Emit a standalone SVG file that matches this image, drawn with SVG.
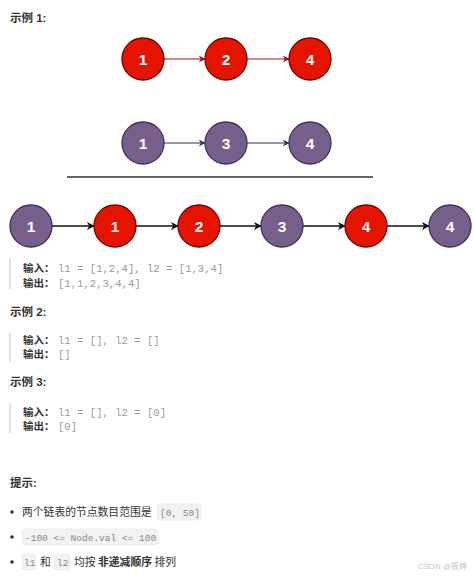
<svg xmlns="http://www.w3.org/2000/svg" width="474" height="579" viewBox="0 0 474 579">
<defs>
<style>
.red{fill:#e51400;stroke:#6f0000;stroke-width:1.3}
.pur{fill:#76608a;stroke:#432d57;stroke-width:1.3}
.nt{font-family:"Liberation Sans",Arial,sans-serif;font-weight:bold;font-size:15.5px;fill:#fff;text-anchor:middle}
.h{font-family:"Liberation Sans","Noto Sans CJK SC",sans-serif;font-weight:bold;font-size:11.5px;fill:#333}
.lb{font-family:"Noto Sans CJK SC",sans-serif;font-weight:bold;font-size:10.5px;fill:#333}
.code{font-family:"Liberation Mono","DejaVu Sans Mono",monospace;font-size:10.6px;fill:#999}
.t{font-family:"Noto Sans CJK SC",sans-serif;font-size:10.8px;fill:#333}
.ic{font-family:"Liberation Mono","DejaVu Sans Mono",monospace;font-size:9.5px;fill:#888}
.cb{fill:#f2f2f2;stroke:#e6e6e6;stroke-width:0.6}
.bar{fill:#e2e2e2}
</style>
<marker id="ar" viewBox="0 0 10 10" refX="9" refY="5" markerWidth="7" markerHeight="7" markerUnits="userSpaceOnUse" orient="auto"><path d="M0,0L10,5L0,10L3,5z" fill="#a50d16"/></marker>
<marker id="ap" viewBox="0 0 10 10" refX="9" refY="5" markerWidth="7" markerHeight="7" markerUnits="userSpaceOnUse" orient="auto"><path d="M0,0L10,5L0,10L3,5z" fill="#3d3050"/></marker>
<marker id="ab" viewBox="0 0 10 10" refX="9" refY="5" markerWidth="8" markerHeight="8" markerUnits="userSpaceOnUse" orient="auto"><path d="M0,0L10,5L0,10L3,5z" fill="#111"/></marker>
</defs>
<rect width="474" height="579" fill="#fff"/>
<text class="h" x="10" y="22">示例 1:</text>
<g id="connectors">
<line x1="164" y1="59" x2="205" y2="59" stroke="#a50d16" stroke-width="1.2" marker-end="url(#ar)"/>
<line x1="247" y1="59" x2="289" y2="59" stroke="#a50d16" stroke-width="1.2" marker-end="url(#ar)"/>
<line x1="164" y1="143" x2="205" y2="143" stroke="#3d3050" stroke-width="1.2" marker-end="url(#ap)"/>
<line x1="247" y1="143" x2="289" y2="143" stroke="#3d3050" stroke-width="1.2" marker-end="url(#ap)"/>
<line x1="52" y1="226" x2="94" y2="226" stroke="#111" stroke-width="1.6" marker-end="url(#ab)"/>
<line x1="136" y1="226" x2="178" y2="226" stroke="#111" stroke-width="1.6" marker-end="url(#ab)"/>
<line x1="220" y1="226" x2="261" y2="226" stroke="#111" stroke-width="1.6" marker-end="url(#ab)"/>
<line x1="303" y1="226" x2="345" y2="226" stroke="#111" stroke-width="1.6" marker-end="url(#ab)"/>
<line x1="387" y1="226" x2="429" y2="226" stroke="#111" stroke-width="1.6" marker-end="url(#ab)"/>
</g>
<g id="a1"><circle class="red" cx="143" cy="59" r="21"/><text class="nt" x="143" y="64.5">1</text></g>
<g id="a2"><circle class="red" cx="226" cy="59" r="21"/><text class="nt" x="226" y="64.5">2</text></g>
<g id="a4"><circle class="red" cx="310" cy="59" r="21"/><text class="nt" x="310" y="64.5">4</text></g>
<g id="b1"><circle class="pur" cx="143" cy="143" r="21"/><text class="nt" x="143" y="148.5">1</text></g>
<g id="b3"><circle class="pur" cx="226" cy="143" r="21"/><text class="nt" x="226" y="148.5">3</text></g>
<g id="b4"><circle class="pur" cx="310" cy="143" r="21"/><text class="nt" x="310" y="148.5">4</text></g>
<line x1="67" y1="177" x2="373" y2="177" stroke="#333" stroke-width="1.6"/>
<g id="c1"><circle class="pur" cx="31" cy="226" r="21"/><text class="nt" x="31" y="231.5">1</text></g>
<g id="c2"><circle class="red" cx="115" cy="226" r="21"/><text class="nt" x="115" y="231.5">1</text></g>
<g id="c3"><circle class="red" cx="199" cy="226" r="21"/><text class="nt" x="199" y="231.5">2</text></g>
<g id="c4"><circle class="pur" cx="282" cy="226" r="21"/><text class="nt" x="282" y="231.5">3</text></g>
<g id="c5"><circle class="red" cx="366" cy="226" r="21"/><text class="nt" x="366" y="231.5">4</text></g>
<g id="c6"><circle class="pur" cx="450" cy="226" r="21"/><text class="nt" x="450" y="231.5">4</text></g>

<rect class="bar" x="9" y="258" width="2" height="31"/>
<text class="lb" x="23" y="272">输入：</text><text class="code" x="58" y="272">l1 = [1,2,4], l2 = [1,3,4]</text>
<text class="lb" x="23" y="287">输出：</text><text class="code" x="58" y="287">[1,1,2,3,4,4]</text>

<text class="h" x="10" y="316">示例 2:</text>
<rect class="bar" x="9" y="333" width="2" height="29"/>
<text class="lb" x="23" y="344">输入：</text><text class="code" x="58" y="344">l1 = [], l2 = []</text>
<text class="lb" x="23" y="358">输出：</text><text class="code" x="58" y="358">[]</text>

<text class="h" x="10" y="386">示例 3:</text>
<rect class="bar" x="9" y="403" width="2" height="30"/>
<text class="lb" x="23" y="416">输入：</text><text class="code" x="58" y="416">l1 = [], l2 = [0]</text>
<text class="lb" x="23" y="430">输出：</text><text class="code" x="58" y="430">[0]</text>

<text class="h" x="10" y="487">提示:</text>
<circle cx="12" cy="512" r="1.8" fill="#333"/>
<text class="t" x="22" y="516">两个链表的节点数目范围是</text>
<rect class="cb" x="157" y="504" width="44" height="16" rx="3"/>
<text class="ic" x="160" y="515.5">[0, 50]</text>
<circle cx="12" cy="537" r="1.8" fill="#333"/>
<rect class="cb" x="22" y="529" width="136" height="16" rx="3"/>
<text class="ic" x="25" y="540.5">-100 &lt;= Node.val &lt;= 100</text>
<circle cx="12" cy="562" r="1.8" fill="#333"/>
<rect class="cb" x="22" y="554" width="14" height="16" rx="3"/>
<text class="ic" x="24" y="565.5">l1</text>
<text class="t" x="40" y="566">和</text>
<rect class="cb" x="54" y="554" width="16" height="16" rx="3"/>
<text class="ic" x="57" y="565.5">l2</text>
<text class="t" x="74" y="566">均按 <tspan font-weight="bold">非递减顺序</tspan> 排列</text>
<text x="418" y="569" font-family="'Liberation Sans','Noto Sans CJK SC',sans-serif" font-size="8px" fill="#c8c8c8">CSDN @筱婷</text>
</svg>
